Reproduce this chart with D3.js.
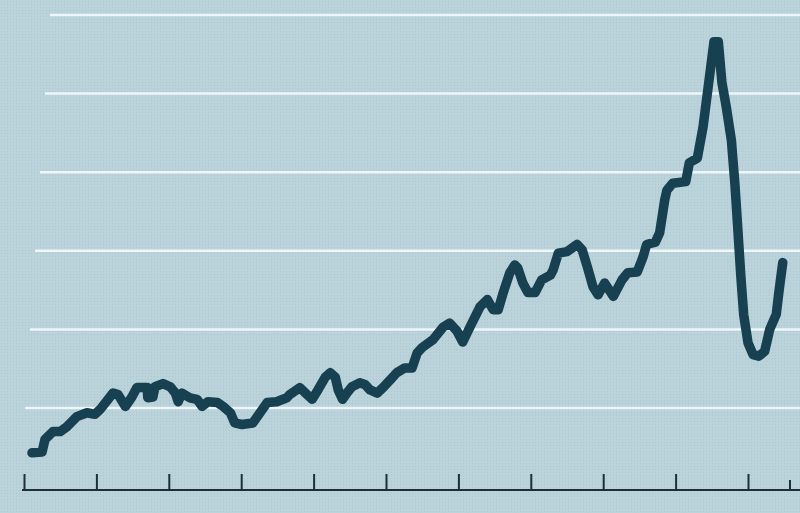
<!DOCTYPE html>
<html>
<head>
<meta charset="utf-8">
<script src="https://cdn.jsdelivr.net/npm/d3@7/dist/d3.min.js"></script>
<style>
  html, body { margin: 0; padding: 0; background: #bbd3db; }
  svg { display: block; }
</style>
</head>
<body>
<svg id="chart" width="800" height="513"></svg>
<script>
// ---- data ----
const xValues = [1.1,2.5,2.9,4.0,5.0,5.9,7.3,8.7,9.8,10.5,12.3,13.0,14.0,14.9,15.6,17.0,17.1,17.8,18.1,
  19.2,20.2,20.9,21.3,21.8,22.9,23.9,24.6,25.4,26.7,27.5,28.5,29.1,30.1,31.6,32.6,33.6,34.9,36.3,
  36.7,38.1,39.1,39.8,40.6,41.6,42.3,43.0,43.4,44.0,44.6,45.3,46.4,47.1,47.8,48.8,49.6,50.6,51.5,52.6,53.6,54.3,55.0,
  56.5,57.9,58.8,59.8,60.6,61.6,63.0,64.0,64.8,65.5,66.2,67.1,67.8,68.2,68.9,69.6,70.6,71.5,72.7,
  73.1,73.8,75.0,76.4,77.1,77.8,78.6,79.3,80.2,81.4,82.6,83.4,84.7,85.5,86.0,87.2,87.8,88.5,
  88.8,89.6,91.4,91.9,93.0,93.8,94.8,95.3,95.9,96.4,97.0,97.7,98.2,98.6,99.0,99.4,100.0,100.7,101.5,
  102.3,103.0,103.9,104.3,104.8];
const yValues = [4.3,4.4,6.0,7.0,7.0,7.6,8.9,9.4,9.2,9.8,11.9,11.7,10.2,11.4,12.6,12.6,11.3,11.4,12.7,
  13.1,12.7,11.9,10.8,11.9,11.3,11.1,10.2,10.8,10.7,10.2,9.4,8.1,7.9,8.1,9.4,10.7,10.8,11.3,
  11.7,12.6,11.7,11.1,12.3,13.9,14.5,13.9,12.3,11.1,11.9,12.7,13.2,13.0,12.3,11.9,12.6,13.6,14.5,15.1,15.1,17.0,17.7,
  18.7,20.3,20.8,19.8,18.4,20.3,22.9,23.8,22.5,22.5,24.7,27.2,28.2,27.8,25.9,24.7,24.7,26.3,26.9,
  27.6,29.7,29.9,30.8,30.1,28.0,25.4,24.4,25.9,24.2,26.3,27.2,27.3,29.2,30.8,31.1,32.3,36.5,
  37.7,38.6,38.8,41.2,41.8,45.8,53.0,56.6,56.6,51.4,48.3,44.1,38.4,32.7,26.9,21.9,18.3,16.8,16.6,
  17.2,20.0,21.9,25.0,28.5];
const gridLevels = [10, 20, 30, 40, 50, 60];
const tickValues = [0, 10, 20, 30, 40, 50, 60, 70, 80, 90, 100];

// ---- drawing ----
const svg = d3.select("#chart");
const W = 800, H = 513;

const x = d3.scaleLinear().domain([0, 100]).range([24, 748]);
const y = d3.scaleLinear().domain([10, 60]).range([408, 15]);

svg.append("rect").attr("width", W).attr("height", H).attr("fill", "#bbd3db");

// subtle halftone texture
const defs = svg.append("defs");
const pat = defs.append("pattern").attr("id", "dots").attr("width", 3).attr("height", 3)
  .attr("patternUnits", "userSpaceOnUse");
pat.append("circle").attr("cx", 1.5).attr("cy", 1.5).attr("r", 0.7).attr("fill", "#9fbcc6").attr("opacity", 0.45);
svg.append("rect").attr("width", W).attr("height", H).attr("fill", "url(#dots)");

// gridlines (white), start shifts slightly because of the photo's perspective
svg.append("g").selectAll("line").data(gridLevels).join("line")
  .attr("x1", (d, i) => 25 + i * 5)
  .attr("x2", W)
  .attr("y1", d => y(d)).attr("y2", d => y(d))
  .attr("stroke", "#eef6f8").attr("stroke-width", 2.5);

// x axis with upward ticks
const axisG = svg.append("g").attr("transform", "translate(0,490)");
const axis = d3.axisBottom(x).tickValues(tickValues).tickSize(-16).tickFormat("");
axisG.call(axis);
axisG.select(".domain").attr("d", "M22,0H800").attr("stroke", "#1f2f33").attr("stroke-width", 2);
axisG.selectAll(".tick line").attr("stroke", "#1f2f33").attr("stroke-width", 2);
// partial tick at the cropped right edge
axisG.append("line").attr("x1", x(105.8)).attr("x2", x(105.8)).attr("y1", 0).attr("y2", -10)
  .attr("stroke", "#1f2f33").attr("stroke-width", 2);

// the series line
const pts = xValues.map((v, i) => [v, yValues[i]]);
const line = d3.line().x(d => x(d[0])).y(d => y(d[1])).curve(d3.curveLinear);
svg.append("path").datum(pts)
  .attr("d", line)
  .attr("fill", "none")
  .attr("stroke", "#174050")
  .attr("stroke-width", 9.5)
  .attr("stroke-linejoin", "round")
  .attr("stroke-linecap", "round");
</script>
</body>
</html>
